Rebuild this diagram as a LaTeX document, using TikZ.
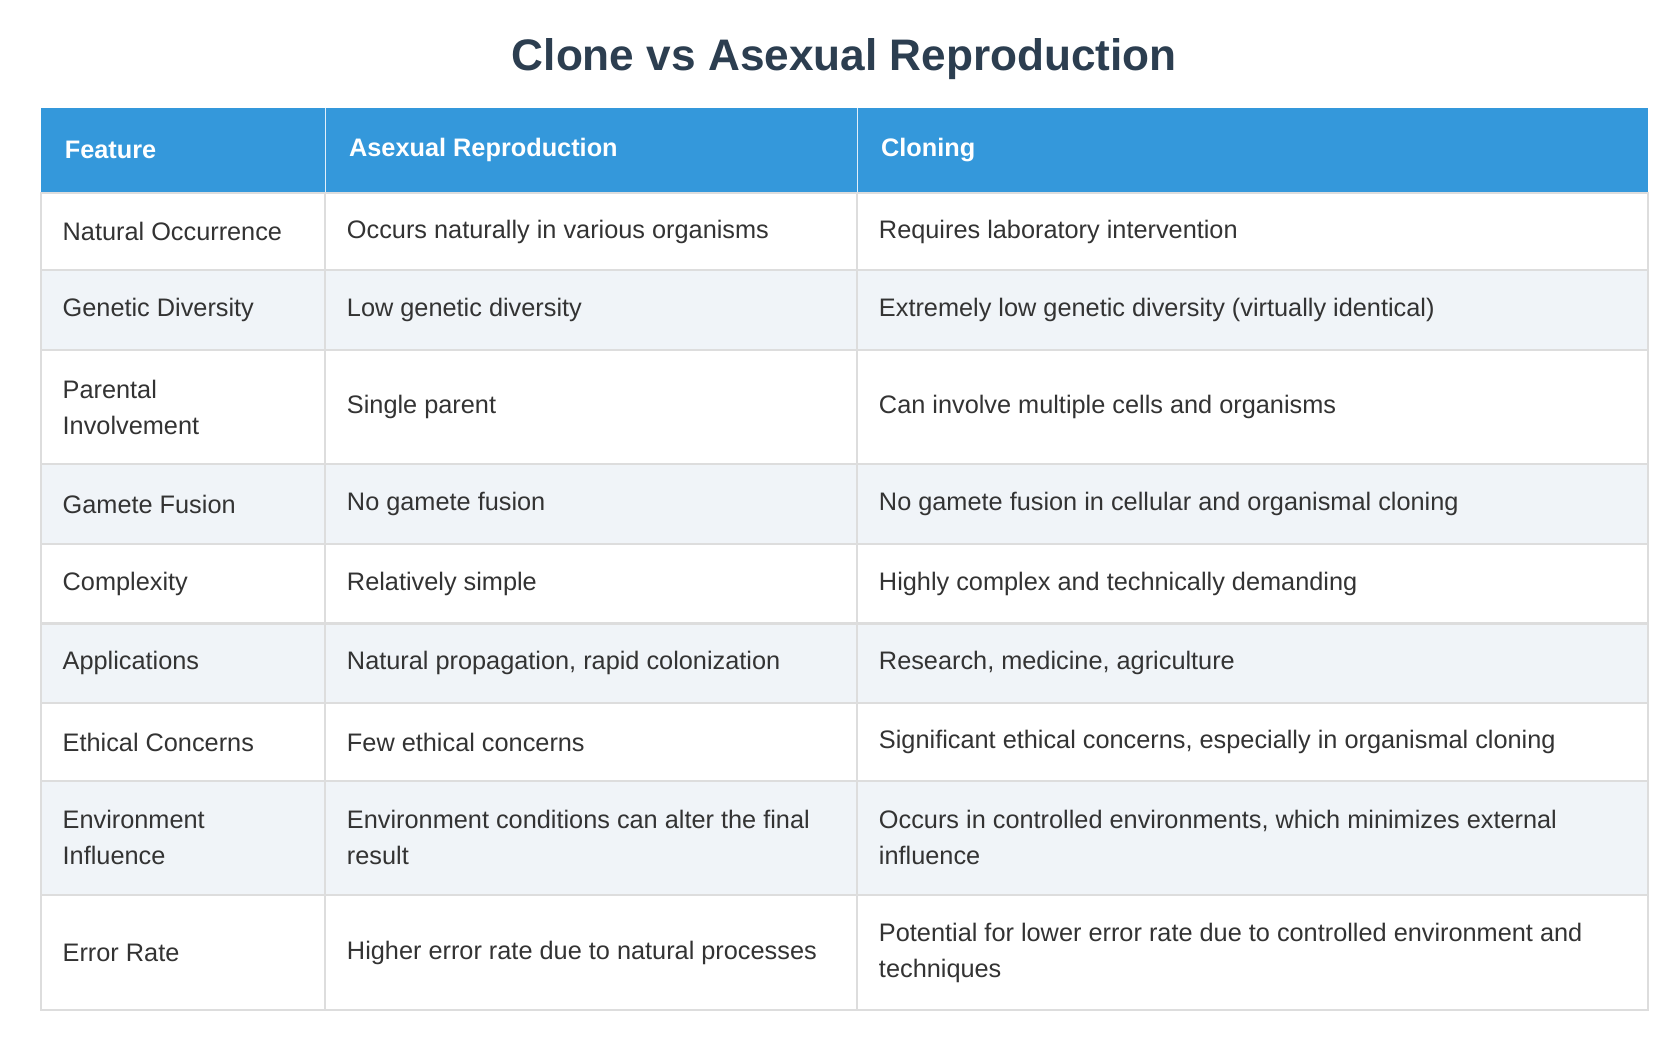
\documentclass[tikz,border=0pt]{standalone}
\usepackage{fontspec}
\setmainfont{Liberation Sans}
\definecolor{hdr}{HTML}{3498DB}
\definecolor{alt}{HTML}{F0F4F8}
\definecolor{bord}{HTML}{DDDDDD}
\definecolor{ttl}{HTML}{2C3E50}
\definecolor{txt}{HTML}{333333}
\tikzset{cell/.style={anchor=west,align=left,text=txt,font=\fontsize{23.5}{33.5}\selectfont,inner sep=0pt},
hcell/.style={anchor=west,text=white,font=\bfseries\fontsize{23.5}{28}\selectfont,inner sep=0pt}}
\begin{document}
\begin{tikzpicture}[x=1pt,y=-1pt]
\useasboundingbox[fill=white] (0,0) rectangle (1560,973);
\node[text=ttl,font=\bfseries\fontsize{41}{46}\selectfont] (title) at (784,55) {Clone vs Asexual Reproduction};
\fill[hdr] (38,100) rectangle (1530,179);
\draw[white!85!hdr,line width=1pt] (302,100)--(302,179) (796,100)--(796,179);
\node[hcell] (h1) at (60,139) {Feature};
\node[hcell] (h2) at (324,139) {Asexual Reproduction};
\node[hcell] (h3) at (818,139) {Cloning};
\foreach \t/\b/\f/\a/\c [count=\i] in {
179/251/Natural Occurrence/Occurs naturally in various organisms/Requires laboratory intervention,
251/325/Genetic Diversity/Low genetic diversity/Extremely low genetic diversity (virtually identical),
325/431/{Parental\\Involvement}/Single parent/Can involve multiple cells and organisms,
431/505/Gamete Fusion/No gamete fusion/No gamete fusion in cellular and organismal cloning,
505/579/Complexity/Relatively simple/Highly complex and technically demanding,
579/653/Applications/{Natural propagation, rapid colonization}/{Research, medicine, agriculture},
653/725/Ethical Concerns/Few ethical concerns/{Significant ethical concerns, especially in organismal cloning},
725/831/{Environment\\Influence}/{Environment conditions can alter the final\\result}/{Occurs in controlled environments, which minimizes external\\influence},
831/938/Error Rate/Higher error rate due to natural processes/{Potential for lower error rate due to controlled environment and\\techniques}}{
  \pgfmathtruncatemacro{\ev}{mod(\i,2)}
  \ifnum\ev=0 \fill[alt] (38,\t) rectangle (1530,\b); \fi
  \draw[bord,line width=2pt] (38,\t) rectangle (1530,\b) (302,\t)--(302,\b) (796,\t)--(796,\b);
  \node[cell] (f\i) at (58,{(\t+\b)/2}) {\f};
  \node[cell] (a\i) at (322,{(\t+\b)/2}) {\a};
  \node[cell] (c\i) at (816,{(\t+\b)/2}) {\c};
}
\end{tikzpicture}
\end{document}
